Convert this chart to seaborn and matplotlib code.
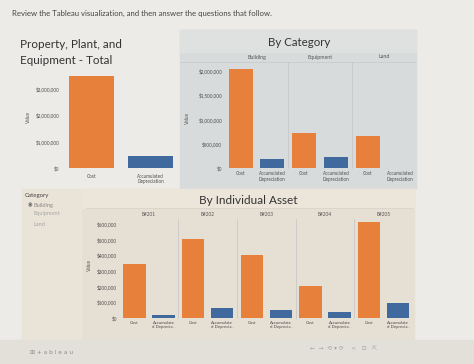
import matplotlib
matplotlib.use("Agg")
import matplotlib.pyplot as plt
import seaborn as sns
import pandas as pd
from matplotlib.patches import Rectangle
from matplotlib.ticker import FuncFormatter

# values
measures = ["Cost", "Accumulated\nDepreciation"]
asset_measures = ["Cost", "Accumulate\nd Deprecia.."]
total_values = [3500000, 460000]

categories = ["Building", "Equipment", "Land"]
category_cost = [2040000, 720000, 660000]
category_accum = [190000, 230000, 0]

assets = ["B#201", "B#202", "B#203", "B#204", "B#205"]
asset_cost = [343000, 500000, 400000, 205000, 608000]
asset_accum = [20000, 64000, 53000, 40000, 97000]

ORANGE = "#e7803b"
BLUE = "#40699e"
W, H = 474, 364

sns.set_theme(style="white")
plt.rcParams["font.family"] = ["Lato", "DejaVu Sans"]

fig = plt.figure(figsize=(4.74, 3.64), dpi=100)
fig.patch.set_facecolor("#ecebe8")


def box(x0, y0, x1, y1):
    return [x0 / W, 1 - y1 / H, (x1 - x0) / W, (y1 - y0) / H]


def panel(x0, y0, x1, y1, color):
    fig.patches.append(Rectangle((x0 / W, 1 - y1 / H), (x1 - x0) / W, (y1 - y0) / H,
                                 transform=fig.transFigure, color=color, zorder=-5))


def txt(x, y, s, **kw):
    fig.text(x / W, 1 - y / H, s, **kw)


money = FuncFormatter(lambda v, p: f"${v:,.0f}")


def bars(ax, labels, values, ymax, ticks, show_y):
    df = pd.DataFrame({"measure": labels, "value": values})
    sns.barplot(data=df, x="measure", y="value", hue="measure",
                palette=[ORANGE, BLUE], width=0.76, saturation=1, linewidth=0,
                legend=False, ax=ax)
    ax.set_facecolor("none")
    ax.set_xlim(-0.5, 1.5)
    ax.set_ylim(0, ymax)
    ax.set_yticks(ticks)
    ax.yaxis.set_major_formatter(money)
    ax.set_xlabel("")
    ax.set_ylabel("")
    ax.tick_params(length=0, labelsize=3.3, colors="#4d4d4d", pad=2)
    if not show_y:
        ax.set_yticklabels([])
    for s in ["top", "right", "bottom"]:
        ax.spines[s].set_visible(False)
    ax.spines["left"].set_color("#c4c4c4")
    ax.spines["left"].set_linewidth(0.5)


# backgrounds
panel(180, 30, 416, 188, "#d8dbdc")
panel(180, 30, 416, 52, "#dfe1e1")
panel(22, 189, 80, 340, "#e9e3d8")
panel(82, 189, 414, 340, "#e6dfd3")
panel(82, 189, 414, 208, "#ebe5da")
panel(0, 340, 474, 364, "#e3e0da")

txt(12, 13, "Review the Tableau visualization, and then answer the questions that follow.",
    fontsize=5.6, color="#444444", va="center")

# total
txt(20, 45, "Property, Plant, and", fontsize=8.4, color="#333333", va="center")
txt(20, 60, "Equipment - Total", fontsize=8.4, color="#333333", va="center")
ax = fig.add_axes(box(62, 60, 180, 168))
bars(ax, measures, total_values, 4100000, [0, 1000000, 2000000, 3000000], True)
ax.spines["left"].set_visible(False)
ax.tick_params(axis="x", labelsize=3.3, pad=4)
txt(28, 117, "Value", fontsize=3.5, rotation=90, va="center", ha="center", color="#555555")

# by category
txt(299, 43, "By Category", fontsize=8.3, color="#333333", va="center", ha="center")
cat_edges = [225, 288, 352, 416]
for i, cat in enumerate(categories):
    ax = fig.add_axes(box(cat_edges[i], 62, cat_edges[i + 1], 168))
    bars(ax, measures, [category_cost[i], category_accum[i]], 2180000,
         [0, 500000, 1000000, 1500000, 2000000], i == 0)
    if i == 0:
        ax.spines["left"].set_visible(False)
    txt((cat_edges[i] + cat_edges[i + 1]) / 2, 57, cat, fontsize=3.8, color="#555555",
        ha="center", va="center")
fig.add_artist(plt.Line2D([180 / W, 416 / W], [1 - 62 / H, 1 - 62 / H], color="#c6c9cb", lw=0.5))
txt(187, 118, "Value", fontsize=3.5, rotation=90, va="center", ha="center", color="#555555")

# category filter
txt(25, 196, "Category", fontsize=4.4, color="#444444", va="center")
txt(28, 205, "◉", fontsize=3.8, color="#666666", va="center", family=["DejaVu Sans"])
txt(33, 205, "Building", fontsize=4.1, color="#8a8a8a", va="center")
txt(33, 214, "Equipment", fontsize=4.1, color="#a8a8a8", va="center")
txt(33, 224, "Land", fontsize=4.1, color="#a8a8a8", va="center")

# by individual asset
txt(248, 200, "By Individual Asset", fontsize=8.5, color="#333333", va="center", ha="center")
asset_edges = [120, 178, 237, 296, 354, 413]
for i, a in enumerate(assets):
    ax = fig.add_axes(box(asset_edges[i], 219, asset_edges[i + 1], 318))
    bars(ax, asset_measures, [asset_cost[i], asset_accum[i]], 630000,
         [0, 100000, 200000, 300000, 400000, 500000, 600000], i == 0)
    ax.tick_params(axis="x", labelsize=3.1)
    if i == 0:
        ax.spines["left"].set_visible(False)
    txt((asset_edges[i] + asset_edges[i + 1]) / 2, 214, a, fontsize=3.4, color="#555555",
        ha="center", va="center")
fig.add_artist(plt.Line2D([86 / W, 413 / W], [1 - 208 / H, 1 - 208 / H], color="#d6cfc3", lw=0.5))
txt(89, 265, "Value", fontsize=3.5, rotation=90, va="center", ha="center", color="#555555")

# footer
txt(30, 352, "⊞ + a b l e a u", fontsize=4.2, color="#8c8c8c", va="center",
    family=["DejaVu Sans"])
txt(310, 349, "←  →  ⟲ ▾ ⟳    <   ⊡   ⇱", fontsize=4.2, color="#a5a5a5", va="center",
    family=["DejaVu Sans"])

fig.savefig("out.png", dpi=100, facecolor=fig.get_facecolor())
